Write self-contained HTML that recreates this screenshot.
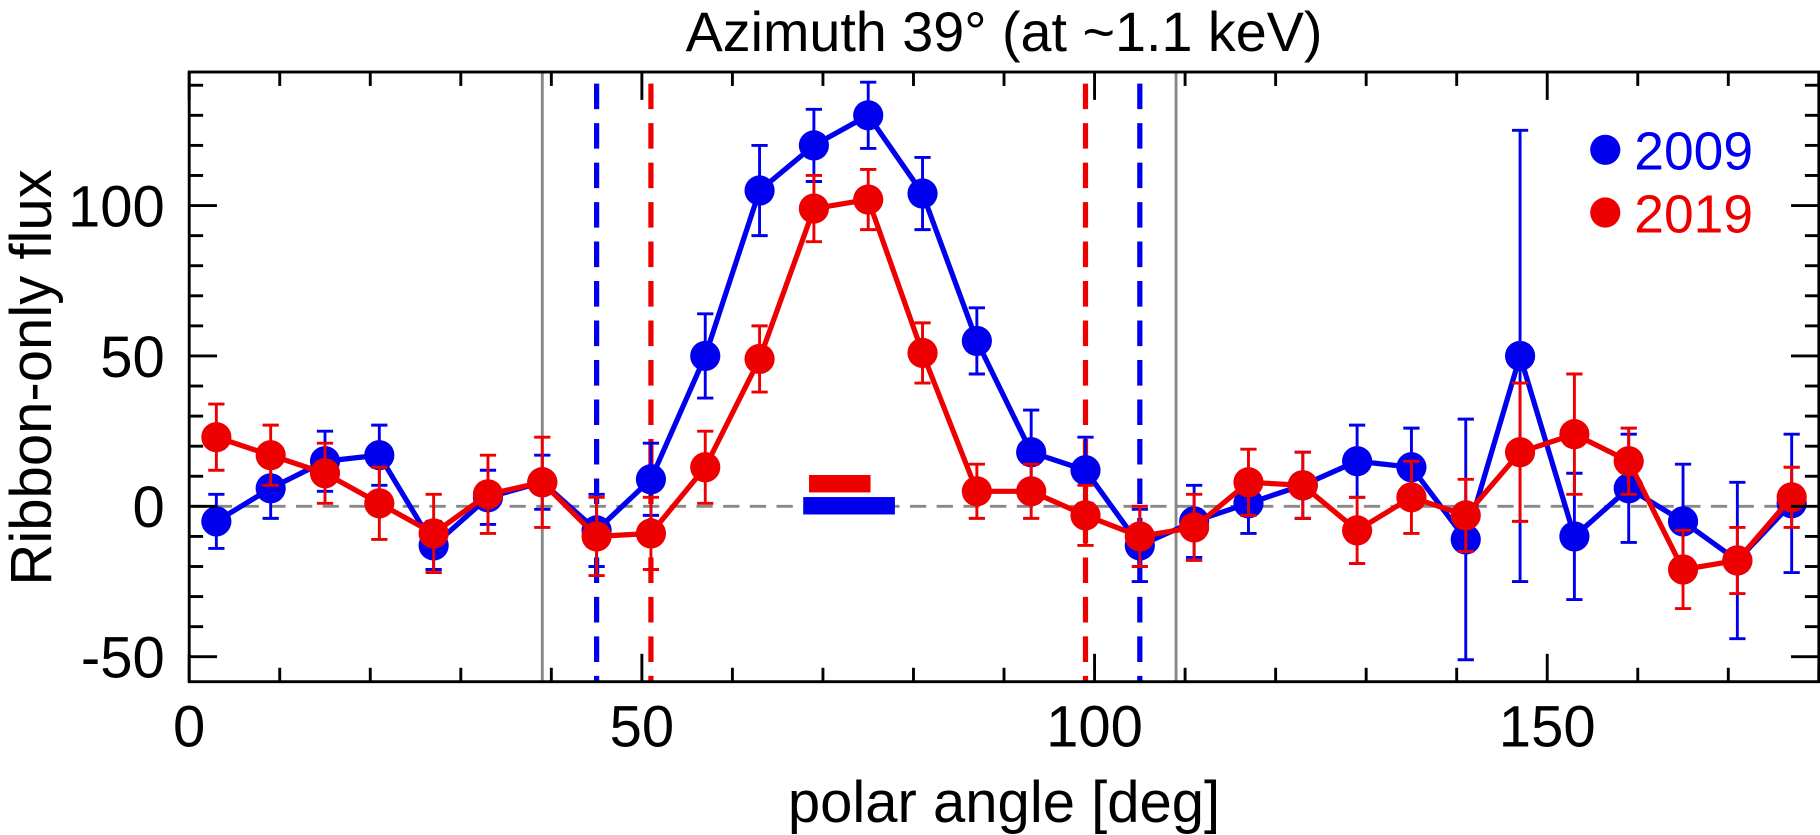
<!DOCTYPE html>
<html><head><meta charset="utf-8"><style>
html,body{margin:0;padding:0;background:#fff;}
svg{display:block;font-family:"Liberation Sans",Arial,sans-serif;}
</style></head><body>
<svg id="s" width="1820" height="835" viewBox="0 0 1568 719" preserveAspectRatio="none" xmlns="http://www.w3.org/2000/svg"></svg>
<script>
const s=document.getElementById('s');
const X=d=>163+d*7.8, Y=v=>436-v*2.59;
let h='';
h+=`<line x1="${X(39)}" y1="62" x2="${X(39)}" y2="587" stroke="#888" stroke-width="2.5"/>`;
h+=`<line x1="${X(109)}" y1="62" x2="${X(109)}" y2="587" stroke="#888" stroke-width="2.5"/>`;
[[45,'#0000ee'],[105,'#0000ee'],[51,'#ee0000'],[99,'#ee0000']].forEach(([d,c])=>{
 h+=`<line x1="${X(d)}" y1="72" x2="${X(d)}" y2="587" stroke="${c}" stroke-width="4.5" stroke-dasharray="22,12"/>`;});
h+=`<line x1="163" y1="${Y(0)}" x2="1567" y2="${Y(0)}" stroke="#888" stroke-width="2.5" stroke-dasharray="14,9"/>`;
h+=`<rect x="697" y="409" width="53" height="15" fill="#ee0000"/>`;
h+=`<rect x="692" y="428" width="79" height="15" fill="#0000ee"/>`;
const xs=[];for(let d=3;d<180;d+=6)xs.push(d);
const B=[-5,6,15,17,-13,3,8,-8,9,50,105,120,130,104,55,18,12,-13,-5,1,7,15,13,-11,50,-10,6,-5,-18,1];
const Be=[9,10,10,10,8,9,9,12,12,14,15,12,11,12,11,14,11,12,12,10,11,12,13,40,75,21,18,19,26,23];
const R=[23,17,11,1,-9,4,8,-10,-9,13,49,99,102,51,5,5,-3,-10,-7,8,7,-8,3,-3,18,24,15,-21,-18,3];
const Re=[11,10,10,12,13,13,15,13,12,12,11,11,10,10,9,9,10,10,11,11,11,11,12,12,23,20,11,13,11,10];
function series(v,e,c){
 let p='';xs.forEach((d,i)=>{const x=X(d);
  p+=`<line x1="${x}" y1="${Y(v[i]+e[i])}" x2="${x}" y2="${Y(v[i]-e[i])}" stroke="${c}" stroke-width="2.5"/>`;
  p+=`<line x1="${x-7}" y1="${Y(v[i]+e[i])}" x2="${x+7}" y2="${Y(v[i]+e[i])}" stroke="${c}" stroke-width="2.5"/>`;
  p+=`<line x1="${x-7}" y1="${Y(v[i]-e[i])}" x2="${x+7}" y2="${Y(v[i]-e[i])}" stroke="${c}" stroke-width="2.5"/>`;});
 p+=`<polyline fill="none" stroke="${c}" stroke-width="4.5" points="${xs.map((d,i)=>X(d)+','+Y(v[i])).join(' ')}"/>`;
 xs.forEach((d,i)=>p+=`<circle cx="${X(d)}" cy="${Y(v[i])}" r="13" fill="${c}"/>`);
 return p;}
h+=series(B,Be,'#0000ee');
h+=series(R,Re,'#ee0000');
h+=`<rect x="163" y="62" width="1404" height="525" fill="none" stroke="#000" stroke-width="2.5"/>`;
for(let d=0;d<=180;d+=10){const x=X(d),L=d%50==0?24:12;
 h+=`<line x1="${x}" y1="587" x2="${x}" y2="${587-L}" stroke="#000" stroke-width="2.5"/><line x1="${x}" y1="62" x2="${x}" y2="${62+L}" stroke="#000" stroke-width="2.5"/>`;}
for(let v=-50;v<=140;v+=10){const y=Y(v),L=v%50==0?24:12;
 h+=`<line x1="163" y1="${y}" x2="${163+L}" y2="${y}" stroke="#000" stroke-width="2.5"/><line x1="1567" y1="${y}" x2="${1567-L}" y2="${y}" stroke="#000" stroke-width="2.5"/>`;}
[0,50,100,150].forEach(d=>h+=`<text x="${X(d)}" y="643" font-size="50" text-anchor="middle">${d}</text>`);
[-50,0,50,100].forEach(v=>h+=`<text x="142" y="${Y(v)+18}" font-size="50" text-anchor="end">${v}</text>`);
h+=`<text x="865" y="708" font-size="50" text-anchor="middle">polar angle [deg]</text>`;
h+=`<text transform="translate(44,325) rotate(-90)" font-size="50" text-anchor="middle">Ribbon-only flux</text>`;
h+=`<text x="865" y="44" font-size="48" text-anchor="middle">Azimuth 39° (at ~1.1 keV)</text>`;
h+=`<circle cx="1383" cy="129" r="13" fill="#0000ee"/><text x="1408" y="146" font-size="46" fill="#0000ee">2009</text>`;
h+=`<circle cx="1383" cy="183" r="13" fill="#ee0000"/><text x="1408" y="200" font-size="46" fill="#ee0000">2019</text>`;
s.innerHTML=h;
</script>
</body></html>
